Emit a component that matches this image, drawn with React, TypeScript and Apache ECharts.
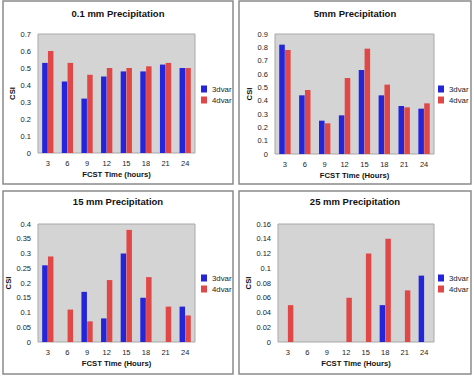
import React, { useEffect, useRef } from "react";
import * as echarts from "echarts";

const hours = ["3", "6", "9", "12", "15", "18", "21", "24"];
const seriesNames = ["3dvar", "4dvar"];

const titles = ["0.1 mm Precipitation", "5mm Precipitation", "15 mm Precipitation", "25 mm Precipitation"];
const xNames = ["FCST Time (hours)", "FCST Time (Hours)", "FCST Time (Hours)", "FCST Time (Hours)"];
const yMax = [0.7, 0.9, 0.4, 0.16];
const yInterval = [0.1, 0.1, 0.05, 0.02];

const p01_3dvar = [0.53, 0.42, 0.32, 0.45, 0.48, 0.48, 0.52, 0.5];
const p01_4dvar = [0.6, 0.53, 0.46, 0.5, 0.5, 0.51, 0.53, 0.5];
const p5_3dvar = [0.82, 0.44, 0.25, 0.29, 0.63, 0.44, 0.36, 0.34];
const p5_4dvar = [0.78, 0.48, 0.23, 0.57, 0.79, 0.52, 0.35, 0.38];
const p15_3dvar = [0.26, 0, 0.17, 0.08, 0.3, 0.15, 0, 0.12];
const p15_4dvar = [0.29, 0.11, 0.07, 0.21, 0.38, 0.22, 0.12, 0.09];
const p25_3dvar = [0, 0, 0, 0, 0, 0.05, 0, 0.09];
const p25_4dvar = [0.05, 0, 0, 0.06, 0.12, 0.14, 0.07, 0];

const panelData = [
  [p01_3dvar, p01_4dvar],
  [p5_3dvar, p5_4dvar],
  [p15_3dvar, p15_4dvar],
  [p25_3dvar, p25_4dvar],
];

const FONT = "Liberation Sans";
const BLUE = "#2424d8";
const RED = "#e04848";

export default function App() {
  const ref = useRef<HTMLDivElement>(null);
  useEffect(() => {
    if (!ref.current) return;
    const chart = echarts.init(ref.current, null, { renderer: "svg" });

    const panels = [
      { x: 3, y: 1, w: 230, h: 183 },
      { x: 239, y: 1, w: 232, h: 183 },
      { x: 3, y: 191, w: 230, h: 183 },
      { x: 239, y: 191, w: 232, h: 183 },
    ];
    const grids = [
      { left: 38, top: 34, width: 157, height: 119 },
      { left: 275, top: 34, width: 159, height: 120 },
      { left: 38, top: 224, width: 157, height: 118 },
      { left: 278, top: 224, width: 156, height: 118 },
    ];
    const titleTops = [8, 8, 196, 196];
    const yNameGaps = [21, 21, 21, 24];
    const legendPos = [
      { left: 201, top: 85 },
      { left: 438, top: 85 },
      { left: 201, top: 274 },
      { left: 438, top: 274 },
    ];

    const option: any = {
      animation: false,
      backgroundColor: "#ffffff",
      graphic: panels.map((p) => ({
        type: "rect",
        shape: { x: p.x, y: p.y, width: p.w, height: p.h },
        style: { fill: "none", stroke: "#8a8a8a", lineWidth: 1.5 },
        silent: true,
      })),
      title: titles.map((t, i) => ({
        text: t,
        left: panels[i].x + panels[i].w / 2,
        top: titleTops[i],
        padding: 0,
        textAlign: "center",
        textStyle: { fontFamily: FONT, fontSize: 9.5, fontWeight: "bold", color: "#111" },
      })),
      legend: legendPos.map((l) => ({
        data: seriesNames,
        orient: "vertical",
        left: l.left,
        top: l.top,
        padding: 0,
        itemWidth: 6,
        itemHeight: 7,
        itemGap: 3,
        icon: "rect",
        textStyle: { fontFamily: FONT, fontSize: 7.8, color: "#222" },
      })),
      grid: grids.map((g) => ({
        ...g,
        show: true,
        backgroundColor: "#d4d4d4",
        borderColor: "#a8a8a8",
        borderWidth: 1,
      })),
      xAxis: grids.map((_, i) => ({
        type: "category",
        gridIndex: i,
        data: hours,
        name: xNames[i],
        nameLocation: "middle",
        nameGap: 17,
        nameTextStyle: { fontFamily: FONT, fontSize: 7.7, fontWeight: "bold", color: "#111" },
        axisLine: { show: false },
        axisTick: { show: false },
        axisLabel: { fontFamily: FONT, fontSize: 7.5, color: "#222", margin: 6 },
      })),
      yAxis: grids.map((_, i) => ({
        type: "value",
        gridIndex: i,
        min: 0,
        max: yMax[i],
        interval: yInterval[i],
        name: "CSI",
        nameLocation: "middle",
        nameGap: yNameGaps[i],
        nameTextStyle: { fontFamily: FONT, fontSize: 7.7, fontWeight: "bold", color: "#111" },
        splitLine: { show: false },
        axisLine: { show: false },
        axisTick: { show: false },
        axisLabel: { fontFamily: FONT, fontSize: 7.5, color: "#222", margin: 7 },
      })),
      series: panelData.flatMap((pair, i) =>
        pair.map((vals, j) => ({
          type: "bar",
          name: seriesNames[j],
          xAxisIndex: i,
          yAxisIndex: i,
          data: vals,
          barWidth: "28%",
          barGap: "5%",
          itemStyle: { color: j === 0 ? BLUE : RED },
        }))
      ),
    };
    chart.setOption(option);
    return () => chart.dispose();
  }, []);
  return (
    <div
      ref={ref}
      style={{ position: "fixed", left: 0, top: 0, width: 474, height: 377 }}
    />
  );
}
